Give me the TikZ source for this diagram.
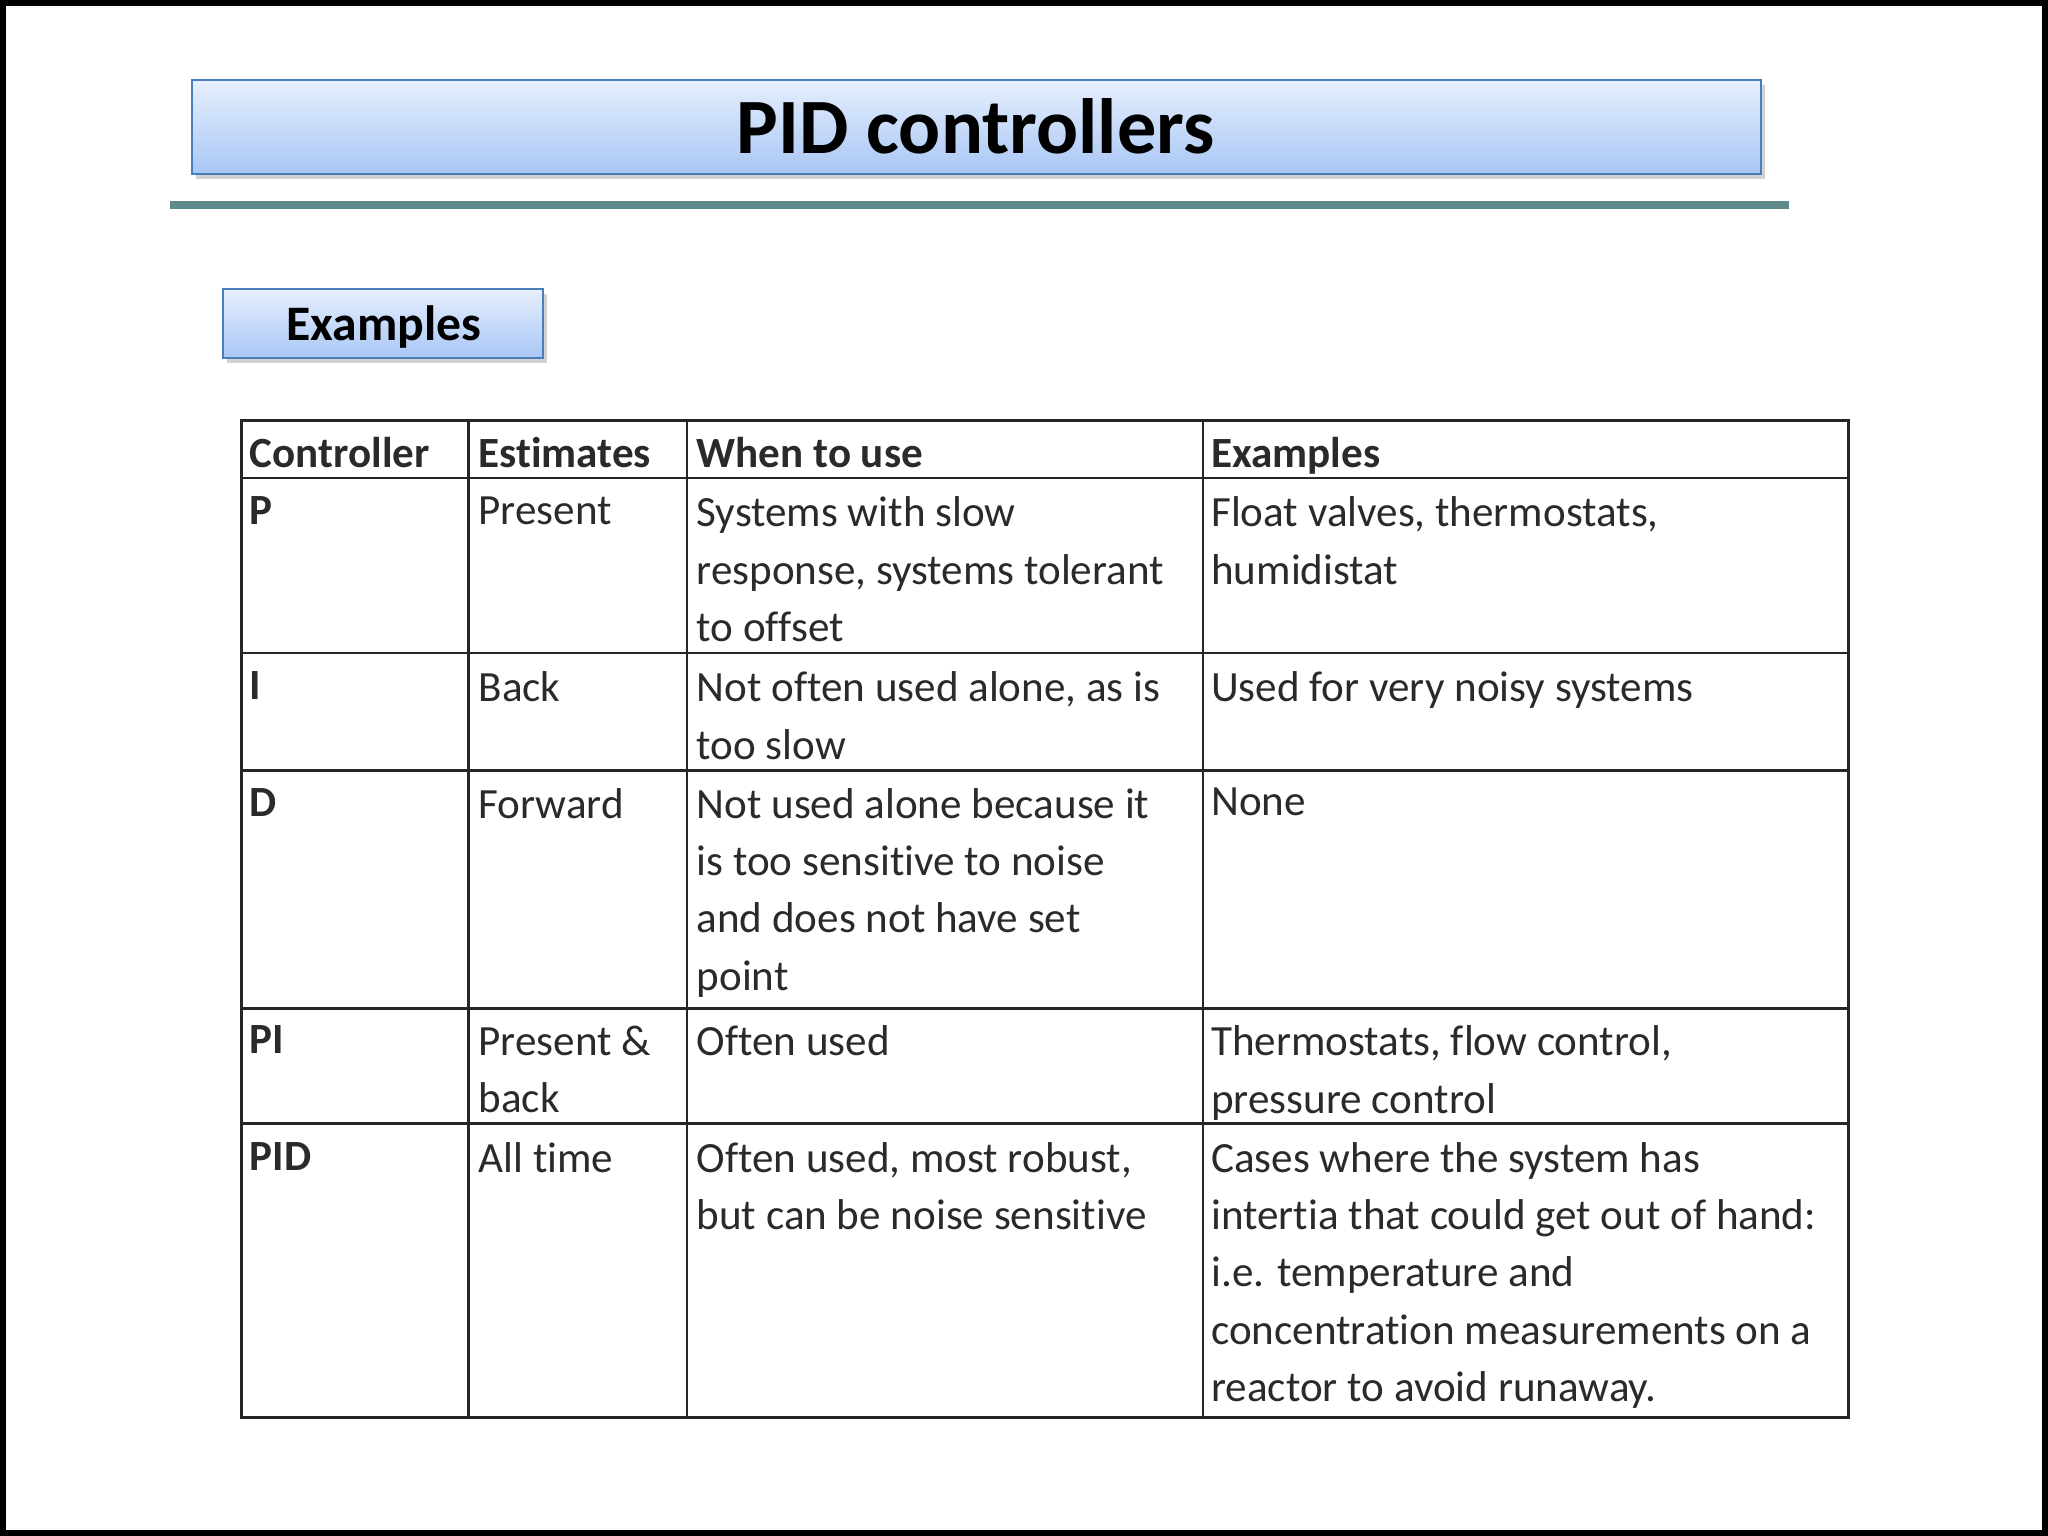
\documentclass[tikz,border=0pt]{standalone}
\usepackage{fontspec}
\setmainfont[Ligatures={NoCommon}]{Carlito}
\usetikzlibrary{shadows}
\definecolor{boxtop}{HTML}{E6EFFD}
\definecolor{boxbot}{HTML}{A9C7F5}
\definecolor{boxline}{HTML}{4A7EBB}
\definecolor{rulecol}{HTML}{5F8A8B}
\definecolor{txt}{HTML}{2A2A2A}
\tikzset{
  titlebox/.style={draw=boxline, line width=0.8pt, top color=boxtop, bottom color=boxbot, drop shadow={shadow xshift=1.5pt, shadow yshift=-2pt, fill=black!35}},
  cell/.style={anchor=north west, inner sep=0pt, align=left, font=\fontsize{16.5}{22}\selectfont, text=txt},
  hcell/.style={cell, font=\fontsize{16.5}{22}\selectfont\bfseries},
  grid/.style={line width=1.1pt, draw=black!85}
}
\begin{document}
\begin{tikzpicture}[x=0.5pt,y=-0.5pt]
\useasboundingbox (0,0) rectangle (1568,1176);
\draw[line width=2.5pt] (2,2) rectangle (1566,1174);
% title
\path[titlebox] (147,61) rectangle (1348,133);
\node[font=\fontsize{30}{34}\selectfont\bfseries] (title) at (747,97) {PID controllers};
\draw[rulecol, line width=3pt] (130,157) -- (1370,157);
\path[titlebox] (171,221) rectangle (416,274);
\node[font=\fontsize{19}{22}\selectfont\bfseries] (ex) at (294,250) {Examples};
% table grid
\draw[grid] (185,322) rectangle (1415,1085);
\foreach \y in {366,500,590,772,860} \draw[grid] (185,\y) -- (1415,\y);
\foreach \x in {359,526,921} \draw[grid] (\x,322) -- (\x,1085);
% header
\node[hcell] (h1) at (191,334) {Controller};
\node[hcell] (h2) at (366,334) {Estimates};
\node[hcell] (h3) at (533,334) {When to use};
\node[hcell] (h4) at (927,334) {Examples};
% P
\node[hcell] (p1) at (191,380) {P};
\node[cell] (p2) at (366,380) {Present};
\node[cell] (p3) at (533,380) {Systems with slow\\response, systems tolerant\\to offset};
\node[cell] (p4) at (927,380) {Float valves, thermostats,\\humidistat};
% I
\node[hcell] (i1) at (191,514) {I};
\node[cell] (i2) at (366,514) {Back};
\node[cell] (i3) at (533,514) {Not often used alone, as is\\too slow};
\node[cell] (i4) at (927,514) {Used for very noisy systems};
% D
\node[hcell] (d1) at (191,603) {D};
\node[cell] (d2) at (366,603) {Forward};
\node[cell] (d3) at (533,603) {Not used alone because it\\is too sensitive to noise\\and does not have set\\point};
\node[cell] (d4) at (927,603) {None};
% PI
\node[hcell] (pi1) at (191,785) {PI};
\node[cell] (pi2) at (366,785) {Present \&\\back};
\node[cell] (pi3) at (533,785) {Often used};
\node[cell] (pi4) at (927,785) {Thermostats, flow control,\\pressure control};
% PID
\node[hcell] (pid1) at (191,874) {PID};
\node[cell] (pid2) at (366,874) {All time};
\node[cell] (pid3) at (533,874) {Often used, most robust,\\but can be noise sensitive};
\node[cell] (pid4) at (927,874) {Cases where the system has\\intertia that could get out of hand:\\i.e. temperature and\\concentration measurements on a\\reactor to avoid runaway.};
\end{tikzpicture}
\end{document}
